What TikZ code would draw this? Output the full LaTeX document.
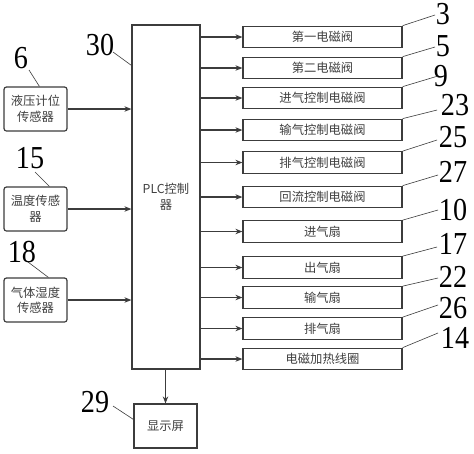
\documentclass[tikz,border=0pt]{standalone}
\usepackage{fontspec}
\usepackage{graphicx}
\newfontfamily\cjk{Noto Sans CJK SC}
\newfontfamily\numfont{Liberation Serif}
\usetikzlibrary{arrows.meta}
\definecolor{linec}{HTML}{3C3C3C}
\definecolor{textc}{HTML}{404040}
\newcommand{\numtxt}[1]{\scalebox{0.88}[1]{#1}}
\begin{document}
\begin{tikzpicture}[x=1pt,y=-1pt,
  box/.style={draw=linec,line width=1.2pt,inner sep=0pt,font=\cjk\fontsize{12.3}{16}\selectfont,text=textc,align=center},
  rbox/.style={box,minimum width=159pt,minimum height=21.5pt},
  lbox/.style={box,rounded corners=2.5pt,minimum width=63pt,minimum height=44pt},
  conn/.style={draw=linec,line width=1.1pt,-{Stealth[length=7pt,width=5.5pt]}},
  lead/.style={draw=linec,line width=0.6pt},
  num/.style={font=\numfont\fontsize{32}{32}\selectfont,text=black,inner sep=0pt}]
\useasboundingbox (0,0) rectangle (474,453);
\fill[white] (0,0) rectangle (474,453);
% PLC
\node[box,minimum width=68pt,minimum height=344pt] (plc) at (166,197) {PLC控制\\器};
% right boxes
\node[rbox] (r1) at (322.5,37) {第一电磁阀};
\node[rbox] (r2) at (322.5,68) {第二电磁阀};
\node[rbox] (r3) at (322.5,98) {进气控制电磁阀};
\node[rbox] (r4) at (322.5,130) {输气控制电磁阀};
\node[rbox] (r5) at (322.5,162.5) {排气控制电磁阀};
\node[rbox] (r6) at (322.5,197) {回流控制电磁阀};
\node[rbox] (r7) at (322.5,231.5) {进气扇};
\node[rbox] (r8) at (322.5,267.5) {出气扇};
\node[rbox] (r9) at (322.5,297.5) {输气扇};
\node[rbox] (r10) at (322.5,328.5) {排气扇};
\node[rbox] (r11) at (322.5,359) {电磁加热线圈};
% left boxes
\node[lbox] (l1) at (35.5,109) {液压计位\\传感器};
\node[lbox] (l2) at (35.5,209) {温度传感\\器};
\node[lbox,font=\cjk\fontsize{12.3}{15}\selectfont] (l3) at (35.5,300) {气体湿度\\传感器};
% display
\node[box,minimum width=63pt,minimum height=44pt] (disp) at (165.5,426) {显示屏};
% connectors
\foreach \i in {1,2,3} {\draw[conn] (l\i.east) -- (l\i.east -| plc.west);}
\foreach \i in {1,...,11} {\draw[conn] (plc.east |- r\i.west) -- (r\i.west);}
\draw[conn] (plc.south -| disp.north) -- (disp.north);
% labels
\node[num] (n6) at (21,58) {\numtxt{6}};
\node[num] (n30) at (100,45) {\numtxt{30}};
\node[num] (n15) at (30,158) {\numtxt{15}};
\node[num] (n18) at (22,252) {\numtxt{18}};
\node[num] (n29) at (95,402) {\numtxt{29}};
\node[num] (n3) at (443,14) {\numtxt{3}};
\node[num] (n5) at (443,46) {\numtxt{5}};
\node[num] (n9) at (441,76) {\numtxt{9}};
\node[num] (n23) at (455,105) {\numtxt{23}};
\node[num] (n25) at (453,137) {\numtxt{25}};
\node[num] (n27) at (453,172) {\numtxt{27}};
\node[num] (n10) at (453,210) {\numtxt{10}};
\node[num] (n17) at (453,244) {\numtxt{17}};
\node[num] (n22) at (453,277) {\numtxt{22}};
\node[num] (n26) at (453,308) {\numtxt{26}};
\node[num] (n14) at (455,338) {\numtxt{14}};
% leader ends
\coordinate (c6) at (29,70);
\coordinate (c30) at (113,52);
\coordinate (c15) at (35,172);
\coordinate (c18) at (28,262);
\coordinate (c29) at (113,406);
\coordinate (c3) at (435,15);
\coordinate (c5) at (435,47);
\coordinate (c9) at (438,76);
\coordinate (c23) at (437,110);
\coordinate (c25) at (437,140);
\coordinate (c27) at (438,175);
\coordinate (c10) at (438,210);
\coordinate (c17) at (437,247);
\coordinate (c22) at (438,278);
\coordinate (c26) at (438,305);
\coordinate (c14) at (438,333);
\draw[lead] (c6) -- ([xshift=36pt]l1.north west);
\draw[lead] (c30) -- ([yshift=-41pt]plc.north west);
\draw[lead] (c15) -- ([xshift=46pt]l2.north west);
\draw[lead] (c18) -- ([xshift=45pt]l3.north west);
\draw[lead] (c29) -- ([yshift=-16pt]disp.north west);
\draw[lead] (c3) -- (r1.north east);
\draw[lead] (c5) -- (r2.north east);
\draw[lead] (c9) -- (r3.north east);
\draw[lead] (c23) -- (r4.north east);
\draw[lead] (c25) -- (r5.north east);
\draw[lead] (c27) -- (r6.north east);
\draw[lead] (c10) -- (r7.north east);
\draw[lead] (c17) -- (r8.north east);
\draw[lead] (c22) -- (r9.north east);
\draw[lead] (c26) -- (r10.north east);
\draw[lead] (c14) -- (r11.north east);
\end{tikzpicture}
\end{document}
